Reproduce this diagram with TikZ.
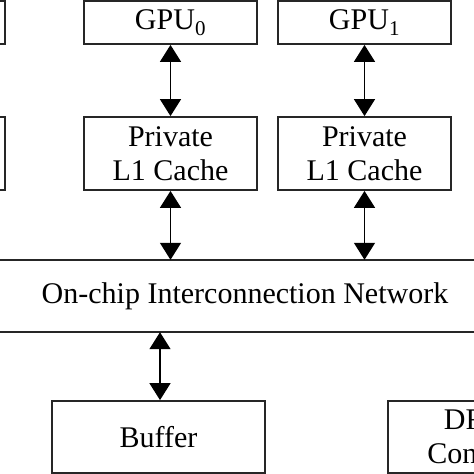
\documentclass[tikz,border=0pt]{standalone}
\usepackage{fontspec}
\setmainfont{Liberation Serif}
\usetikzlibrary{arrows.meta}
\begin{document}
\begin{tikzpicture}[x=1pt,y=-1pt,
  box/.style={draw=black!85,line width=1.8pt,align=center,inner sep=0pt,
    font=\fontsize{30}{34}\selectfont},
  arr/.style={line width=1.5pt,{Triangle[width=21pt,length=17pt]}-{Triangle[width=21pt,length=17pt]}},
  netline/.style={line width=1.8pt,draw=black!85}]
\useasboundingbox (0,0) rectangle (474,474);
\clip (0,0) rectangle (474,474);
\fill[white] (0,0) rectangle (474,474);
% left partial boxes
\node[box,minimum width=173pt,minimum height=43pt] (gpux) at (-81.5,22.5) {};
\node[box,minimum width=173pt,minimum height=73pt] (l1x) at (-81.5,153.5) {};
% GPUs
\node[box,minimum width=173pt,minimum height=43pt] (gpu0) at (170.5,22.5) {GPU\textsubscript{0}};
\node[box,minimum width=173pt,minimum height=43pt] (gpu1) at (364.5,22.5) {GPU\textsubscript{1}};
% L1 caches
\node[box,minimum width=173pt,minimum height=73pt] (l1a) at (170.5,153.5) {Private\\L1 Cache};
\node[box,minimum width=173pt,minimum height=73pt] (l1b) at (364.5,153.5) {Private\\L1 Cache};
% network
\node[inner sep=0pt,minimum width=560pt,minimum height=72pt,
  font=\fontsize{30}{34}\selectfont] (net) at (245,296) {On-chip Interconnection Network};
\draw[netline] (net.north west) -- (net.north east);
\draw[netline] (net.south west) -- (net.south east);
% bottom boxes
\node[box,minimum width=213pt,minimum height=72pt] (buf) at (158.5,437) {Buffer};
\node[box,minimum width=202pt,minimum height=72pt] (dram) at (489,437) {DRAM\\Controller};
% arrows
\draw[arr] (gpu0.south) -- (l1a.north);
\draw[arr] (gpu1.south) -- (l1b.north);
\draw[arr] (l1a.south) -- (l1a.south |- net.north);
\draw[arr] (l1b.south) -- (l1b.south |- net.north);
\draw[arr] ([xshift=1.5pt]buf.north) -- ([xshift=1.5pt]buf.north |- net.south);
\end{tikzpicture}
\end{document}
